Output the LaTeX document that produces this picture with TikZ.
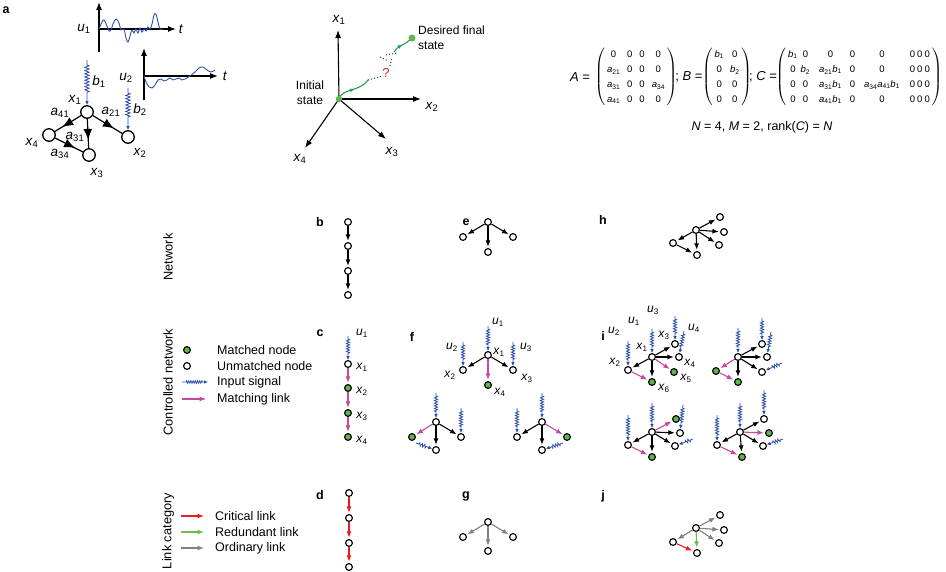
\documentclass[tikz,border=0pt]{standalone}
\usepackage{fontspec}
\setmainfont{Liberation Sans}
\usepackage{amsmath}
\usetikzlibrary{arrows.meta,decorations.pathmorphing,decorations.markings}
\definecolor{sblue}{RGB}{45,80,170}
\definecolor{mag}{RGB}{200,70,160}
\definecolor{mgreen}{RGB}{95,180,75}
\definecolor{critc}{RGB}{228,30,36}
\definecolor{redc}{RGB}{110,190,70}
\definecolor{ordc}{RGB}{128,128,128}
\definecolor{tgreen}{RGB}{30,160,70}
\newcommand{\vs}[2]{\textit{#1}\textsubscript{#2}}
\newcommand{\pmat}[2]{$\left(\vcenter{\hbox{\fontsize{9.5}{15}\selectfont\begin{tabular}{#1}#2\end{tabular}}}\right)$}
\begin{document}
\begin{tikzpicture}[x=1pt,y=-1pt,
  nd/.style={circle,draw,line width=1.1pt,fill=white,inner sep=0pt,minimum size=6.8pt},
  gnd/.style={nd,fill=mgreen},
  bnd/.style={circle,draw,line width=1.3pt,fill=white,inner sep=0pt,minimum size=12.5pt},
  ed/.style={line width=1.1pt,-{Latex[length=6.5pt,width=5pt]},shorten >=1.2pt},
  med/.style={ed,draw=mag,fill=mag},
  crit/.style={ed,draw=critc,fill=critc},
  redun/.style={ed,draw=redc,fill=redc},
  ordi/.style={ed,draw=ordc,fill=ordc},
  inp/.style={draw=sblue,line width=0.8pt,-{Latex[length=4pt,width=3.6pt]},decorate,
    decoration={zigzag,segment length=2.6pt,amplitude=1.6pt,pre length=3pt,post length=6pt}},
  bigar/.style={line width=1.2pt,postaction={decorate},
    decoration={markings,mark=at position #1 with {\arrow{Latex[length=11pt,width=9pt]}}}},
  axs/.style={line width=1.1pt,-{Latex[length=8pt,width=6pt]}},
  lbl/.style={font=\fontsize{12}{13}\selectfont,inner sep=0pt},
  albl/.style={font=\fontsize{13.5}{14}\selectfont,inner sep=0pt},
  pl/.style={font=\bfseries\fontsize{12.5}{13}\selectfont,inner sep=0pt},
  leg/.style={font=\fontsize{12.5}{14}\selectfont,anchor=west,inner sep=0pt},
  rowl/.style={font=\fontsize{12.8}{14}\selectfont,rotate=90,inner sep=0pt},
  eqt/.style={font=\fontsize{13}{15}\selectfont,inner sep=0pt},
  tgarrow/.style={tgreen,line width=1.1pt,postaction={decorate},
    decoration={markings,mark=at position #1 with {\arrow{Latex[length=5pt,width=4pt]}}}}
]
\useasboundingbox (0,0) rectangle (946,572);

% ---------------- panel a : left ----------------
\node[pl] (la) at (6,10) {a};
\draw[axs] (99,52) -- (99,2);
\draw[axs] (99,29) -- (176,29);
\node[albl] (t1) at (181,29) {\textit{t}};
\node[albl] (u1a) at (84,29) {\vs{u}{1}};
\draw[sblue,line width=0.9pt] plot[smooth,tension=0.55] coordinates {(99,29) (102,22) (104,20) (107,26) (109,31) (111,30) (113,24) (116,19) (119,23) (121,30) (124,29) (126,38) (128,42) (130,36) (132,30) (134,33) (136,29) (138,33) (140,28) (142,32) (144,29) (146,31) (148,27) (150,29) (152,24) (154,15) (156,14) (158,22) (160,29) (163,29)};
\draw[axs] (144,100) -- (144,48);
\draw[axs] (144,76) -- (218,76);
\node[albl] (t2) at (225,76) {\textit{t}};
\node[albl] (u2a) at (126,78) {\vs{u}{2}};
\draw[sblue,line width=0.9pt] plot[smooth,tension=0.55] coordinates {(144,76) (146,82) (149,87) (152,88) (155,85) (158,80) (161,79) (164,81) (167,80) (170,78) (173,80) (176,79) (179,78) (182,80) (185,79) (190,76) (195,72) (199,68) (203,67) (207,70) (211,72) (215,70)};
\node[bnd] (a1) at (87,112) {};
\node[bnd] (a4) at (49,135) {};
\node[bnd] (a3) at (89,155) {};
\node[bnd] (a2) at (128,137) {};
\draw[bigar=0.72] (a1) -- (a4);
\draw[bigar=0.72] (a1) -- (a3);
\draw[bigar=0.72] (a1) -- (a2);
\draw[bigar=0.72] (a4) -- (a3);
\coordinate (b1s) at (87,60);
\coordinate (b2s) at (128,88);
\draw[inp,decoration={pre length=5pt,post length=12pt,amplitude=2.2pt,segment length=3.2pt}] (b1s) -- (a1);
\draw[inp,decoration={pre length=5pt,post length=12pt,amplitude=2.2pt,segment length=3.2pt}] (b2s) -- (a2);
\node[albl] (lb1) at (99,82) {\vs{b}{1}};
\node[albl] (lb2) at (140,110) {\vs{b}{2}};
\node[albl] (lx1) at (75,100) {\vs{x}{1}};
\node[albl] (lx4) at (32,143) {\vs{x}{4}};
\node[albl] (lx3) at (97,173) {\vs{x}{3}};
\node[albl] (lx2) at (140,153) {\vs{x}{2}};
\node[albl] (la41) at (60,113) {\vs{a}{41}};
\node[albl] (la31) at (75,137) {\vs{a}{31}};
\node[albl] (la21) at (111,112) {\vs{a}{21}};
\node[albl] (la34) at (60,154) {\vs{a}{34}};

% ---------------- panel a : middle ----------------
\coordinate (O) at (339,99);
\coordinate (X1) at (338,30);
\coordinate (X2) at (421,99);
\coordinate (X3) at (386,139);
\coordinate (X4) at (305,148);
\draw[axs] (O) -- (X1);
\draw[axs] (O) -- (X2);
\draw[axs] (O) -- (X3);
\draw[axs] (O) -- (X4);
\node[albl] (m1) at (339,20) {\vs{x}{1}};
\node[albl] (m2) at (432,107) {\vs{x}{2}};
\node[albl] (m3) at (392,152) {\vs{x}{3}};
\node[albl] (m4) at (300,159) {\vs{x}{4}};
\node[font=\fontsize{12}{15}\selectfont,align=center,inner sep=0pt] (ini) at (310,93) {Initial\\state};
\node[font=\fontsize{12}{15}\selectfont,align=left,anchor=west,inner sep=0pt] (fin) at (418,38) {Desired final\\state};
\coordinate (T1) at (368,80);
\coordinate (T2) at (394,52);
\coordinate (F) at (412,38);
\draw[tgarrow=0.55] (O) .. controls (342,88) and (360,92) .. (T1);
\draw[tgreen!60!black,dotted,line width=1.1pt] (T1) -- (383,76);
\draw[tgreen!60!black,dotted,line width=1.1pt] (390,66) -- (392,57);
\draw[tgreen!60!black,dotted,line width=1.1pt] (380,57) -- (388,61);
\draw[tgreen!60!black,dotted,line width=1.1pt] (386,55) -- (397,53);
\node[text=critc,font=\fontsize{13}{13}\selectfont,inner sep=0pt] (q) at (386,73) {?};
\draw[tgarrow=0.5] (T2) .. controls (398,45) and (404,46) .. (F);
\fill[mgreen] (O) circle (3.2pt);
\fill[mgreen] (F) circle (3.5pt);

% ---------------- panel a : right ----------------
\node[eqt] (eqA) at (580,77) {\textit{A} =};
\node[eqt] (mA) at (636,77) {\pmat{@{\hspace{2pt}}c@{\hspace{7pt}}c@{\hspace{7pt}}c@{\hspace{7pt}}c@{\hspace{2pt}}}{0&0&0&0\\ \vs{a}{21}&0&0&0\\ \vs{a}{31}&0&0&\vs{a}{34}\\ \vs{a}{41}&0&0&0}};
\node[eqt] (eqB) at (689,77) {; \textit{B} =};
\node[eqt] (mB) at (727,77) {\pmat{@{\hspace{2pt}}c@{\hspace{6pt}}c@{\hspace{2pt}}}{\vs{b}{1}&0\\ 0&\vs{b}{2}\\ 0&0\\ 0&0}};
\node[eqt] (eqC) at (763,77) {; \textit{C} =};
\node[eqt] (mC) at (859,77) {\pmat{@{\hspace{2pt}}c@{\hspace{3pt}}c@{\hspace{9pt}}c@{\hspace{8pt}}c@{\hspace{9pt}}c@{\hspace{10pt}}c@{\hspace{2pt}}}{%
\vs{b}{1}&0&0&0&0&0\hspace{2pt}0\hspace{2pt}0\\
0&\vs{b}{2}&\vs{a}{21}\vs{b}{1}&0&0&0\hspace{2pt}0\hspace{2pt}0\\
0&0&\vs{a}{31}\vs{b}{1}&0&\vs{a}{34}\vs{a}{41}\vs{b}{1}&0\hspace{2pt}0\hspace{2pt}0\\
0&0&\vs{a}{41}\vs{b}{1}&0&0&0\hspace{2pt}0\hspace{2pt}0}};
\node[inner sep=0pt,font=\fontsize{12.5}{14}\selectfont] (eq2) at (762,127) {\textit{N} = 4, \textit{M} = 2, rank(\textit{C}) = \textit{N}};

% ---------------- row labels & legends ----------------
\node[rowl] (r1) at (168,257) {Network};
\node[rowl] (r2) at (168,382) {Controlled network};
\node[rowl] (r3) at (168,531) {Link category};

\node[gnd] (lg1) at (187,350) {};
\node[leg] (lt1) at (217,350) {Matched node};
\node[nd] (lg2) at (187,366) {};
\node[leg] (lt2) at (217,366) {Unmatched node};
\coordinate (lg3a) at (182,382);
\coordinate (lg3b) at (208,382);
\draw[inp,decoration={pre length=4pt,post length=5pt,amplitude=1.3pt,segment length=2.2pt}] (lg3a) -- (lg3b);
\node[leg] (lt3) at (217,382) {Input signal};
\coordinate (lg4a) at (182,399);
\coordinate (lg4b) at (206,399);
\draw[med,shorten >=0pt] (lg4a) -- (lg4b);
\node[leg] (lt4) at (217,399) {Matching link};

\coordinate (lk1a) at (181,516);
\coordinate (lk1b) at (204,516);
\draw[crit,shorten >=0pt] (lk1a) -- (lk1b);
\node[leg] (lk1) at (215,516) {Critical link};
\coordinate (lk2a) at (181,532);
\coordinate (lk2b) at (204,532);
\draw[redun,shorten >=0pt] (lk2a) -- (lk2b);
\node[leg] (lk2) at (215,532) {Redundant link};
\coordinate (lk3a) at (181,548);
\coordinate (lk3b) at (204,548);
\draw[ordi,shorten >=0pt] (lk3a) -- (lk3b);
\node[leg] (lk3) at (215,548) {Ordinary link};

% ---------------- panel b ----------------
\node[pl] (pb) at (320,222) {b};
\node[nd] (b1) at (348,222) {};
\node[nd] (b2) at (348,246) {};
\node[nd] (b3) at (348,271) {};
\node[nd] (b4) at (348,295) {};
\draw[ed] (b1) -- (b2);
\draw[ed] (b2) -- (b3);
\draw[ed] (b3) -- (b4);

% ---------------- panel c ----------------
\node[pl] (pc) at (320,333) {c};
\node[nd] (c1) at (348,364) {};
\node[gnd] (c2) at (348,388) {};
\node[gnd] (c3) at (348,413) {};
\node[gnd] (c4) at (348,437) {};
\coordinate (cu) at (348,336);
\draw[inp] (cu) -- (c1);
\draw[med] (c1) -- (c2);
\draw[med] (c2) -- (c3);
\draw[med] (c3) -- (c4);
\node[lbl] (cl0) at (362,333) {\vs{u}{1}};
\node[lbl] (cl1) at (362,367) {\vs{x}{1}};
\node[lbl] (cl2) at (362,391) {\vs{x}{2}};
\node[lbl] (cl3) at (362,416) {\vs{x}{3}};
\node[lbl] (cl4) at (362,440) {\vs{x}{4}};

% ---------------- panel d ----------------
\node[pl] (pd) at (320,495) {d};
\node[nd] (d1) at (349,493) {};
\node[nd] (d2) at (349,518) {};
\node[nd] (d3) at (349,543) {};
\node[nd] (d4) at (349,567) {};
\draw[crit] (d1) -- (d2);
\draw[crit] (d2) -- (d3);
\draw[crit] (d3) -- (d4);

% ---------------- panel e ----------------
\node[pl] (pe) at (466,222) {e};
\node[nd] (eT) at (488,222) {};
\node[nd] (eL) at (463,237) {};
\node[nd] (eR) at (513,237) {};
\node[nd] (eB) at (488,252) {};
\draw[ed] (eT) -- (eL);
\draw[ed] (eT) -- (eB);
\draw[ed] (eT) -- (eR);

% ---------------- panel g ----------------
\node[pl] (pg) at (466,496) {g};
\node[nd] (gT) at (488,522) {};
\node[nd] (gL) at (463,537) {};
\node[nd] (gR) at (513,537) {};
\node[nd] (gB) at (488,551) {};
\draw[ordi] (gT) -- (gL);
\draw[ordi] (gT) -- (gB);
\draw[ordi] (gT) -- (gR);

% ---------------- panel f ----------------
\node[pl] (pf) at (412,337) {f};
\node[nd] (f1) at (488,355) {};
\node[nd] (f2) at (463,370) {};
\node[nd] (f3) at (513,370) {};
\node[gnd] (f4) at (488,385) {};
\coordinate (fu1) at (488,326);
\coordinate (fu2) at (463,342);
\coordinate (fu3) at (513,342);
\draw[inp] (fu1) -- (f1);
\draw[inp] (fu2) -- (f2);
\draw[inp] (fu3) -- (f3);
\draw[ed] (f1) -- (f2);
\draw[ed] (f1) -- (f3);
\draw[med] (f1) -- (f4);
\node[lbl] (flu1) at (498,322) {\vs{u}{1}};
\node[lbl] (flu2) at (452,347) {\vs{u}{2}};
\node[lbl] (flu3) at (526,347) {\vs{u}{3}};
\node[lbl] (flx1) at (499,352) {\vs{x}{1}};
\node[lbl] (flx2) at (450,375) {\vs{x}{2}};
\node[lbl] (flx3) at (527,378) {\vs{x}{3}};
\node[lbl] (flx4) at (500,392) {\vs{x}{4}};
% f bottom-left
\node[nd] (fa1) at (436,422) {};
\node[gnd] (fa2) at (412,437) {};
\node[nd] (fa3) at (461,437) {};
\node[nd] (fa4) at (436,450) {};
\coordinate (fau1) at (436,393);
\coordinate (fau3) at (461,408);
\coordinate (fau4) at (416,443);
\draw[inp] (fau1) -- (fa1);
\draw[inp] (fau3) -- (fa3);
\draw[inp] (fau4) -- (fa4);
\draw[med] (fa1) -- (fa2);
\draw[ed] (fa1) -- (fa3);
\draw[ed] (fa1) -- (fa4);
% f bottom-right
\node[nd] (fb1) at (542,422) {};
\node[nd] (fb2) at (517,437) {};
\node[gnd] (fb3) at (567,437) {};
\node[nd] (fb4) at (542,450) {};
\coordinate (fbu1) at (542,393);
\coordinate (fbu2) at (517,408);
\coordinate (fbu4) at (563,443);
\draw[inp] (fbu1) -- (fb1);
\draw[inp] (fbu2) -- (fb2);
\draw[inp] (fbu4) -- (fb4);
\draw[ed] (fb1) -- (fb2);
\draw[med] (fb1) -- (fb3);
\draw[ed] (fb1) -- (fb4);

% ---------------- panel h ----------------
\node[pl] (ph) at (603,220) {h};
\node[nd] (hC) at (696,230) {};
\node[nd] (hL) at (673,243) {};
\node[nd] (hB) at (697,255) {};
\node[nd] (hRU) at (720,217) {};
\node[nd] (hR) at (724,232) {};
\node[nd] (hRD) at (719,245) {};
\draw[ed] (hC) -- (hL);
\draw[ed] (hC) -- (hB);
\draw[ed] (hC) -- (hRU);
\draw[ed] (hC) -- (hR);
\draw[ed] (hC) -- (hRD);
\draw[ed] (hL) -- (hB);

% ---------------- panel j ----------------
\node[pl] (pj) at (603,496) {j};
\node[nd] (jC) at (696,528) {};
\node[nd] (jL) at (673,542) {};
\node[nd] (jB) at (697,553) {};
\node[nd] (jRU) at (720,515) {};
\node[nd] (jR) at (724,530) {};
\node[nd] (jRD) at (719,543) {};
\draw[ordi] (jC) -- (jL);
\draw[redun] (jC) -- (jB);
\draw[ordi] (jC) -- (jRU);
\draw[ordi] (jC) -- (jR);
\draw[ordi] (jC) -- (jRD);
\draw[crit] (jL) -- (jB);

% ---------------- panel i ----------------
\node[pl] (pi) at (603,336) {i};
% top-left
\node[nd] (i1) at (652,357) {};
\node[nd] (i2) at (628,370) {};
\node[gnd] (i6) at (652,382) {};
\node[nd] (i3) at (675,344) {};
\node[nd] (i4) at (679,357) {};
\node[gnd] (i5) at (674,372) {};
\coordinate (iu1) at (652,329);
\coordinate (iu2) at (628,341);
\coordinate (iu3) at (675,316);
\coordinate (iu4) at (684,331);
\draw[inp] (iu1) -- (i1);
\draw[inp] (iu2) -- (i2);
\draw[inp] (iu3) -- (i3);
\draw[inp] (iu4) -- (i4);
\draw[ed] (i1) -- (i2);
\draw[ed] (i1) -- (i6);
\draw[ed] (i1) -- (i3);
\draw[ed] (i1) -- (i4);
\draw[med] (i1) -- (i5);
\draw[med] (i2) -- (i6);
\node[lbl] (ilu2) at (614,331) {\vs{u}{2}};
\node[lbl] (ilu1) at (634,321) {\vs{u}{1}};
\node[lbl] (ilu3) at (653,310) {\vs{u}{3}};
\node[lbl] (ilu4) at (694,328) {\vs{u}{4}};
\node[lbl] (ilx1) at (642,347) {\vs{x}{1}};
\node[lbl] (ilx2) at (615,362) {\vs{x}{2}};
\node[lbl] (ilx3) at (664,335) {\vs{x}{3}};
\node[lbl] (ilx4) at (690,363) {\vs{x}{4}};
\node[lbl] (ilx5) at (686,378) {\vs{x}{5}};
\node[lbl] (ilx6) at (664,388) {\vs{x}{6}};
% top-right
\node[nd] (ia1) at (738,357) {};
\node[gnd] (ia2) at (716,371) {};
\node[gnd] (ia6) at (738,382) {};
\node[nd] (ia3) at (762,344) {};
\node[nd] (ia4) at (767,357) {};
\node[nd] (ia5) at (762,372) {};
\coordinate (iau1) at (738,328);
\coordinate (iau3) at (762,318);
\coordinate (iau4) at (771,332);
\coordinate (iau5) at (782,363);
\draw[inp] (iau1) -- (ia1);
\draw[inp] (iau3) -- (ia3);
\draw[inp] (iau4) -- (ia4);
\draw[inp] (iau5) -- (ia5);
\draw[med] (ia1) -- (ia2);
\draw[med] (ia2) -- (ia6);
\draw[ed] (ia1) -- (ia6);
\draw[ed] (ia1) -- (ia3);
\draw[ed] (ia1) -- (ia4);
\draw[ed] (ia1) -- (ia5);
% bottom-left
\node[nd] (ib1) at (652,432) {};
\node[nd] (ib2) at (628,445) {};
\node[gnd] (ib6) at (652,457) {};
\node[gnd] (ib3) at (676,419) {};
\node[nd] (ib4) at (680,433) {};
\node[nd] (ib5) at (675,446) {};
\coordinate (ibu2) at (628,415);
\coordinate (ibu1) at (652,403);
\coordinate (ibu4) at (683,405);
\coordinate (ibu5) at (693,439);
\draw[inp] (ibu2) -- (ib2);
\draw[inp] (ibu1) -- (ib1);
\draw[inp] (ibu4) -- (ib4);
\draw[inp] (ibu5) -- (ib5);
\draw[ed] (ib1) -- (ib2);
\draw[med] (ib2) -- (ib6);
\draw[ed] (ib1) -- (ib6);
\draw[med] (ib1) -- (ib3);
\draw[ed] (ib1) -- (ib4);
\draw[ed] (ib1) -- (ib5);
% bottom-right
\node[nd] (ic1) at (740,432) {};
\node[nd] (ic2) at (717,445) {};
\node[gnd] (ic6) at (742,457) {};
\node[nd] (ic3) at (764,419) {};
\node[gnd] (ic4) at (769,433) {};
\node[nd] (ic5) at (763,446) {};
\coordinate (icu2) at (717,415);
\coordinate (icu1) at (740,403);
\coordinate (icu3) at (764,390);
\coordinate (icu5) at (783,439);
\draw[inp] (icu2) -- (ic2);
\draw[inp] (icu1) -- (ic1);
\draw[inp] (icu3) -- (ic3);
\draw[inp] (icu5) -- (ic5);
\draw[ed] (ic1) -- (ic2);
\draw[med] (ic2) -- (ic6);
\draw[ed] (ic1) -- (ic6);
\draw[ed] (ic1) -- (ic3);
\draw[med] (ic1) -- (ic4);
\draw[ed] (ic1) -- (ic5);
\end{tikzpicture}
\end{document}
